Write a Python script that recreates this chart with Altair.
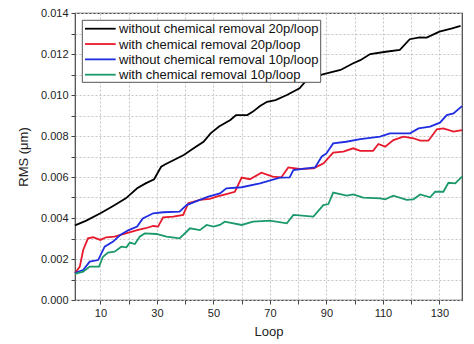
import altair as alt
import pandas as pd

series_names = [
    "without chemical removal 20p/loop",
    "with chemical removal 20p/loop",
    "without chemical removal 10p/loop",
    "with chemical removal 10p/loop",
]
series_colors = ["#000000", "#e8192c", "#1f2ee0", "#1a9a6a"]

black_loop = [1, 5, 10, 14.5, 19, 23, 26, 29, 31.5, 33, 36, 39.5, 43, 46.5, 49, 52, 56, 58, 62, 64,
              66.5, 69, 72, 76, 80.5, 83.5, 86, 89, 95, 99.5, 102, 105.5, 111, 116, 119.5, 123, 125.5,
              130, 134.5, 137.5]
black_rms = [.00364, .00387, .00423, .00459, .00496, .00545, .00569, .00589, .0065, .00662, .00683,
             .00707, .0074, .00772, .00813, .00846, .00878, .00902, .00902, .00919, .00946, .00967,
             .00975, .0100, .01033, .01081, .0109, .01102, .01122, .01155, .0117, .012, .01211, .0122,
             .01272, .01281, .0128, .01309, .01325, .01337]

red_loop = [1, 2.7, 3.9, 5.6, 7.4, 10, 12, 15, 19, 23, 26, 28.7, 30.4, 32.2, 35.8, 39.3, 41.1, 45.2,
            48.7, 51.1, 54.6, 57.6, 60, 62.9, 67, 71, 74, 76.5, 80.5, 85.5, 89, 92.4, 96, 99.5, 102,
            106.5, 108.4, 110.8, 113.7, 117.3, 120.8, 123.2, 126.1, 129.1, 131.4, 135, 138]
red_rms = [.0013, .00163, .00244, .00301, .00306, .00293, .00306, .00309, .00325, .00341, .0035,
           .00361, .00358, .00403, .00407, .00415, .00472, .00488, .00493, .00504, .00517, .00528,
           .00597, .00589, .00621, .00602, .00598, .00647, .00639, .00642, .00667, .00719, .00724,
           .0074, .00727, .00728, .00761, .00748, .0078, .00797, .00789, .00777, .00777, .00833,
           .00837, .00821, .00829]

blue_loop = [1, 3.9, 6.2, 9.2, 11.5, 14.5, 17, 20, 23, 25, 28.7, 32.2, 38, 40.5, 45.2, 48.2, 52.3,
             54.6, 60, 66.5, 73.5, 77, 78.3, 83, 86, 88.3, 90, 92.4, 97, 102, 109, 112.5, 119.6,
             122.6, 126.7, 130.2, 132.6, 135, 138]
blue_rms = [.00133, .00146, .00187, .00195, .0026, .00285, .00317, .00341, .00358, .00398, .00423,
            .00428, .00431, .00463, .00488, .00504, .0052, .00545, .0055, .00569, .00597, .00598,
            .00634, .00642, .00647, .00699, .00715, .00764, .00772, .00785, .00797, .00813, .00813,
            .00837, .00846, .00865, .00902, .0091, .00946]

green_loop = [1, 3.9, 6.2, 9.5, 10.9, 12.7, 15, 17.4, 19.2, 20.4, 22.2, 23.9, 25.7, 29.8, 33.4, 38,
              40.5, 41.7, 45.2, 47.6, 50, 52.3, 54, 60, 64, 70, 76, 78.3, 85.4, 88.9, 90.7, 92.4,
              97.2, 99.5, 103, 109, 110.8, 113.7, 118.4, 120.8, 123.2, 126.7, 128.5, 131.4, 133.2,
              135.6, 138]
green_rms = [.00127, .00138, .00163, .00163, .00211, .00231, .00236, .0026, .00257, .0028, .00273,
             .00309, .00325, .00322, .00309, .00301, .00333, .0035, .00341, .00366, .00358, .00366,
             .00382, .00366, .00382, .00387, .00374, .00415, .00407, .00463, .00468, .00524, .00509,
             .00515, .00499, .00496, .00491, .00509, .00488, .00491, .00515, .00501, .00528, .00528,
             .00572, .00569, .00602]

x_ticks = list(range(10, 140, 10))
y_ticks = [i / 1000 for i in range(0, 15)]

rows = []
for name, lx, ly in zip(series_names,
                        [black_loop, red_loop, blue_loop, green_loop],
                        [black_rms, red_rms, blue_rms, green_rms]):
    for a, b in zip(lx, ly):
        rows.append({"Loop": a, "RMS": b, "Series": name})
df = pd.DataFrame(rows)
legend_df = pd.DataFrame({"Series": series_names})

FONT = "Liberation Sans"
color_enc = alt.Color("Series:N",
                      scale=alt.Scale(domain=series_names, range=series_colors),
                      legend=None)

lines = alt.Chart(df).mark_line(strokeWidth=1.8).encode(
    x=alt.X("Loop:Q",
            scale=alt.Scale(domain=[1, 138], nice=False, zero=False),
            axis=alt.Axis(values=x_ticks, title="Loop",
                          labelExpr="datum.value % 20 == 10 ? datum.label : ''",
                          grid=True, gridDash=[2, 2], gridColor="#c4c4c4",
                          labelFontSize=11, titleFontSize=13, titlePadding=7,
                          tickSize=4, labelPadding=3, domain=False)),
    y=alt.Y("RMS:Q",
            scale=alt.Scale(domain=[0, 0.014], nice=False),
            axis=alt.Axis(values=y_ticks, title="RMS (μm)",
                          labelExpr="round(datum.value * 1000) % 2 == 0 ? format(datum.value, '.3f') : ''",
                          grid=True, gridDash=[2, 2], gridColor="#c4c4c4",
                          labelFontSize=11, titleFontSize=13, titlePadding=10,
                          tickSize=4, labelPadding=3, domain=False)),
    color=color_enc,
    order=alt.Order("Loop:Q"),
)

legend_y = alt.Y("Series:N", sort=series_names,
                 scale=alt.Scale(type="point", domain=series_names, range=[15.7, 61.7], padding=0),
                 axis=None)

legend_box = alt.Chart(pd.DataFrame({"k": [0]})).mark_rect(
    fill="white", stroke="#555555", strokeWidth=1
).encode(
    x=alt.value(7.3), x2=alt.value(245.7), y=alt.value(7.3), y2=alt.value(69.3)
)

legend_lines = alt.Chart(legend_df).mark_rule(strokeWidth=1.8).encode(
    x=alt.value(10), x2=alt.value(40.7), y=legend_y, color=color_enc
)

legend_text = alt.Chart(legend_df).mark_text(
    align="left", baseline="middle", font=FONT, fontSize=13, color="#111111", dy=0.5
).encode(
    x=alt.value(44), y=legend_y, text="Series:N"
)

chart = alt.layer(lines, legend_box, legend_lines, legend_text).resolve_scale(
    y="independent"
).properties(
    width=387, height=287,
    autosize=alt.AutoSizeParams(type="none"),
    padding={"left": 75, "top": 13, "right": 12, "bottom": 44},
).configure_view(
    stroke="#444444", strokeWidth=1.2
).configure_axis(
    labelFont=FONT, titleFont=FONT, titleFontWeight="normal", labelColor="#222222",
    titleColor="#222222", tickColor="#444444"
)

chart.save("out.html", embed_options={"renderer": "svg", "actions": False})
